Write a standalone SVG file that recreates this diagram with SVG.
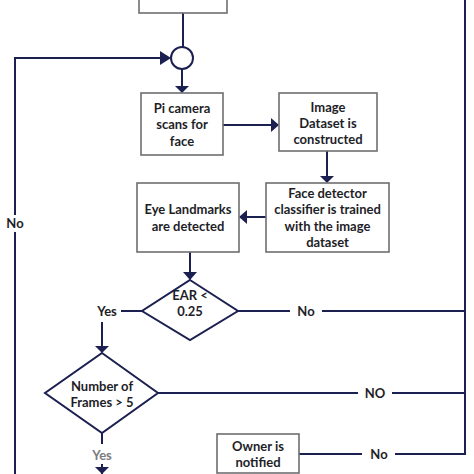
<svg xmlns="http://www.w3.org/2000/svg" width="474" height="474" viewBox="0 0 474 474">
<defs>
<style>
.box{fill:#fff;stroke:#6e6e72;stroke-width:1.6}
.dia{fill:#fff;stroke:#1c2050;stroke-width:2}
.ln{fill:none;stroke:#1c2050;stroke-width:2}
.t{font-family:Lato,"Noto Sans",sans-serif;font-weight:bold;font-size:13px;fill:#1e1e28;text-anchor:middle}
.g{fill:#7a7a80}
</style>
</defs>
<rect width="474" height="474" fill="#fff"/>
<g id="connectors">
<line class="ln" x1="183" y1="13" x2="183" y2="47"/>
<path class="ln" d="M15,215 L15,58 L160,58"/>
<path d="M160,51 L171,58 L160,65 z" fill="#1c2050"/>
<line class="ln" x1="15" y1="232" x2="15" y2="474"/>
<line class="ln" x1="182" y1="69" x2="182" y2="86"/>
<path d="M175,86 L189,86 L182,93 z" fill="#1c2050"/>
<line class="ln" x1="223" y1="125" x2="271" y2="125"/>
<path d="M271,118 L279,125 L271,132 z" fill="#1c2050"/>
<line class="ln" x1="327" y1="151" x2="327" y2="176"/>
<path d="M320,176 L334,176 L327,183 z" fill="#1c2050"/>
<line class="ln" x1="266" y1="217" x2="247" y2="217"/>
<path d="M247,210 L239,217 L247,224 z" fill="#1c2050"/>
<line class="ln" x1="190" y1="252" x2="190" y2="272"/>
<path d="M183,272 L197,272 L190,280 z" fill="#1c2050"/>
<line class="ln" x1="142" y1="311" x2="121" y2="311"/>
<line class="ln" x1="102" y1="322" x2="102" y2="346"/>
<path d="M95,346 L109,346 L102,353 z" fill="#1c2050"/>
<line class="ln" x1="238" y1="311" x2="290" y2="311"/>
<line class="ln" x1="322" y1="311" x2="465" y2="311"/>
<line class="ln" x1="158" y1="393" x2="358" y2="393"/>
<line class="ln" x1="392" y1="393" x2="465" y2="393"/>
<line class="ln" x1="465" y1="0" x2="465" y2="454"/>
<line class="ln" x1="299" y1="454" x2="362" y2="454"/>
<line class="ln" x1="395" y1="454" x2="466" y2="454"/>
<line class="ln" x1="102" y1="433" x2="102" y2="444"/>
<path d="M95,467 L109,467 L102,474 z" fill="#1c2050"/>
<line class="ln" x1="102" y1="464" x2="102" y2="474"/>
<text class="t" x="15" y="228">No</text>
<text class="t" x="107" y="315.5">Yes</text>
<text class="t" x="306" y="315.5">No</text>
<text class="t" x="375" y="397.5">NO</text>
<text class="t" x="379" y="458.5">No</text>
<text class="t g" x="102" y="459.5">Yes</text>
</g>
<g id="start">
<rect class="box" x="139" y="-20" width="88" height="33"/>
</g>
<g id="junction">
<circle cx="182" cy="58" r="11" fill="#fff" stroke="#1c2050" stroke-width="2"/>
</g>
<g id="pi-camera">
<rect class="box" x="141" y="93" width="82" height="62"/>
<text class="t" x="182" y="112.5">Pi camera</text>
<text class="t" x="182" y="129">scans for</text>
<text class="t" x="182" y="145.5">face</text>
</g>
<g id="image-dataset">
<rect class="box" x="279" y="93" width="98" height="58"/>
<text class="t" x="328" y="111.5">Image</text>
<text class="t" x="328" y="127.5">Dataset is</text>
<text class="t" x="328" y="143.5">constructed</text>
</g>
<g id="face-detector">
<rect class="box" x="266" y="183" width="123" height="69"/>
<text class="t" x="327.5" y="197.5">Face detector</text>
<text class="t" x="327.5" y="214">classifier is trained</text>
<text class="t" x="327.5" y="230.5">with the image</text>
<text class="t" x="327.5" y="247">dataset</text>
</g>
<g id="eye-landmarks">
<rect class="box" x="137" y="183" width="102" height="69"/>
<text class="t" x="188" y="214">Eye Landmarks</text>
<text class="t" x="188" y="230.5">are detected</text>
</g>
<g id="ear">
<path class="dia" d="M190,280 L238,311 L190,340 L142,311 z"/>
<text class="t" x="190" y="299.5">EAR &lt;</text>
<text class="t" x="190" y="315.5">0.25</text>
</g>
<g id="frames">
<path class="dia" d="M102,353 L158,393 L102,433 L45,393 z"/>
<text class="t" x="102" y="390.5">Number of</text>
<text class="t" x="102" y="406.5">Frames &gt; 5</text>
</g>
<g id="owner">
<rect class="box" x="217" y="434" width="82" height="39"/>
<text class="t" x="258" y="450.5">Owner is</text>
<text class="t" x="258" y="466.5">notified</text>
</g>
</svg>
